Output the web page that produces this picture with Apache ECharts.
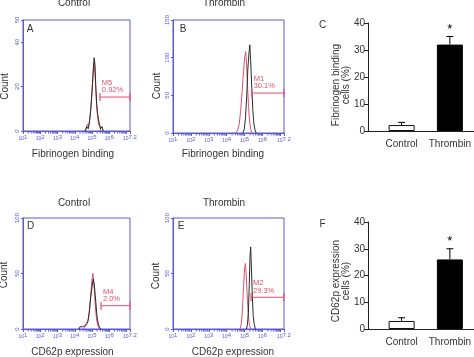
<!DOCTYPE html>
<html><head><meta charset="utf-8">
<script src="https://cdn.jsdelivr.net/npm/echarts@6/dist/echarts.min.js"></script>
<style>html,body{margin:0;padding:0;background:#fff}#c{width:474px;height:357px}</style>
</head><body><div id="c"></div>
<script>
// ---------- Histogram data (x = log10 fluorescence, y = count) ----------
const aRedX = [4.55,4.65,4.72,4.8,4.88,4.95,5.02,5.08,5.13,5.18,5.22,5.28,5.33,5.38,5.45,5.5];
const aRedY = [0,1,3,2,6,12,20,28,31,25,18,10,6,3,2,0];
const aBlkX = [4.6,4.7,4.78,4.85,4.93,5.0,5.06,5.12,5.17,5.22,5.27,5.32,5.38,5.43,5.5,5.58,5.65];
const aBlkY = [0,2,1,4,10,18,26,33,30,20,12,8,5,3,1,2,0];

const bRedX = [4.5,4.6,4.7,4.78,4.86,4.94,5.0,5.06,5.1,5.16,5.22,5.28,5.34,5.4];
const bRedY = [0,3,12,30,55,82,100,108,95,65,35,15,5,0];
const bBlkX = [4.9,4.98,5.05,5.12,5.18,5.24,5.29,5.34,5.4,5.46,5.52,5.58,5.65];
const bBlkY = [0,5,20,50,85,105,117,95,60,30,12,4,0];

const dRedX = [4.5,4.6,4.7,4.78,4.86,4.93,5.0,5.05,5.1,5.16,5.22,5.28,5.34,5.4,5.46];
const dRedY = [0,2,4,8,18,32,45,50,42,28,15,7,3,1,0];
const dBlkX = [4.25,4.3,4.38,4.45,4.52,4.6,4.68,4.76,4.84,4.92,5.0,5.07,5.13,5.19,5.25,5.3,5.36,5.42,5.5];
const dBlkY = [0,2,1,2,1,3,5,7,15,28,38,45,40,30,18,10,5,2,0];

const eRedX = [4.75,4.82,4.88,4.94,5.0,5.05,5.1,5.16,5.22,5.28,5.34];
const eRedY = [0,5,18,38,55,59,45,25,10,3,0];
const eBlkX = [5.1,5.16,5.21,5.26,5.3,5.34,5.38,5.43,5.48,5.54,5.6];
const eBlkY = [0,4,15,40,65,74,55,30,12,4,0];

// ---------- Gate markers ----------
const markerNames = ['M5','M1','M4','M2'];
const markerPct   = ['0.92%','30.1%','2.0%','29.3%'];
const markerStart = [5.46, 5.4, 5.52, 5.36];
const markerEnd   = [7.2, 7.2, 7.2, 7.2];
const markerLevel = [15.3, 53, 21, 28.6];

// ---------- Histogram axes ----------
const histYMax = [50, 150, 100, 100];
const histYInterval = [20, 50, 50, 50];
const histXMin = 1, histXMax = 7.2;

// ---------- Bar chart data ----------
const barCats = ['Control','Thrombin'];
const fibMean = [2.2, 32];
const fibSem  = [1, 3];
const cd62Mean = [3, 26];
const cd62Sem  = [1.2, 4];
const sigMarks = ['', '*'];
const barYTicks = [0,10,20,30,40];

const FONT = 'Liberation Sans';
const AX = '#5a5ad0';
const RED = '#e0526a';
const BLK = '#2b2b2b';
const TXT = '#333';

const histGrids = [
  {left:23, top:20, width:107, height:111},
  {left:173, top:20, width:111, height:113},
  {left:23, top:218, width:107, height:111},
  {left:173, top:218, width:111, height:111}
];
const grids = histGrids.map(g => Object.assign({show:true, borderColor:AX, borderWidth:1, backgroundColor:'transparent'}, g));
grids.push({left:377.5, top:23, width:100, height:108});
grids.push({left:377.5, top:222, width:100, height:107});
grids.push({left:368, top:23, width:110, height:108});
grids.push({left:368, top:222, width:110, height:107});

const xAxes = [], yAxes = [];
for (let i = 0; i < 4; i++) {
  xAxes.push({
    gridIndex:i, type:'value', min:histXMin, max:histXMax, interval:1,
    axisLine:{show:true, lineStyle:{color:AX, width:1}},
    axisTick:{show:true, length:3, lineStyle:{color:AX}},
    splitLine:{show:false},
    axisLabel:{
      margin:3, color:AX, fontFamily:FONT,
      formatter: v => (v === 7 ? '' : '{b|10}{s|' + v + '}'),
      rich:{ b:{fontSize:5, color:AX, fontFamily:FONT}, s:{fontSize:6, color:AX, fontFamily:FONT, padding:[0,0,3,0]} }
    }
  });
  yAxes.push({
    gridIndex:i, type:'value', min:0, max:histYMax[i], interval:histYInterval[i],
    axisLine:{show:true, lineStyle:{color:AX, width:1}},
    axisTick:{show:true, length:2, lineStyle:{color:AX}},
    splitLine:{show:false},
    axisLabel:{rotate:90, fontSize:6, margin:3, color:AX, fontFamily:FONT, showMaxLabel:true}
  });
}
// bar grids
for (let j = 0; j < 2; j++) {
  xAxes.push({
    gridIndex:4+j, type:'category', data:barCats,
    axisLine:{show:false}, axisTick:{show:false},
    axisLabel:{interval:0, hideOverlap:false, fontSize:10, color:TXT, fontFamily:FONT, margin:8}
  });
  yAxes.push({
    gridIndex:4+j, type:'value', min:barYTicks[0], max:barYTicks[barYTicks.length-1], interval:10, offset:9.5,
    axisLine:{show:true, lineStyle:{color:'#222', width:1}},
    axisTick:{show:true, length:4, lineStyle:{color:'#222'}},
    splitLine:{show:false},
    axisLabel:{fontSize:10, color:TXT, fontFamily:FONT, margin:3}
  });
}
// baseline grids (x axis line only)
for (let j = 0; j < 2; j++) {
  xAxes.push({
    gridIndex:6+j, type:'value', min:0, max:1,
    axisLine:{show:true, lineStyle:{color:'#222', width:1}},
    axisTick:{show:false}, axisLabel:{show:false}, splitLine:{show:false}
  });
  yAxes.push({gridIndex:6+j, type:'value', show:false, min:0, max:1});
}

const zip = (xs, ys) => xs.map((x, i) => [x, ys[i]]);
const curves = [
  [aRedX, aRedY, aBlkX, aBlkY],
  [bRedX, bRedY, bBlkX, bBlkY],
  [dRedX, dRedY, dBlkX, dBlkY],
  [eRedX, eRedY, eBlkX, eBlkY]
];

// minor log ticks (axis decoration)
const minorTicks = [];
for (let d = 1; d < 8; d++) for (let k = 2; k < 10; k++) {
  const v = d + Math.log10(k);
  if (v < histXMax) minorTicks.push([v, 0]);
}

const series = [];
for (let i = 0; i < 4; i++) {
  const c = curves[i];
  series.push({type:'line', xAxisIndex:i, yAxisIndex:i, data:zip(c[0], c[1]), showSymbol:false, symbol:'none',
    lineStyle:{color:RED, width:1}, itemStyle:{color:RED}, silent:true, animation:false});
  series.push({type:'line', xAxisIndex:i, yAxisIndex:i, data:zip(c[2], c[3]), showSymbol:false, symbol:'none',
    lineStyle:{color:BLK, width:1}, itemStyle:{color:BLK}, silent:true, animation:false});
  series.push({type:'line', xAxisIndex:i, yAxisIndex:i,
    data:[
      {value:[markerStart[i], markerLevel[i]],
       label:{show:true, position:[2.5,-14], formatter: markerNames[i] + '\n' + markerPct[i],
              color:RED, fontSize:7.5, lineHeight:7.5, fontFamily:FONT, align:'left'}},
      {value:[markerEnd[i], markerLevel[i]]}
    ],
    symbol:'rect', symbolSize:[1.2, 8], showSymbol:true,
    lineStyle:{color:RED, width:1}, itemStyle:{color:RED}, silent:true, animation:false});
  series.push({type:'custom', xAxisIndex:i, yAxisIndex:i, data:minorTicks, clip:false, silent:true, animation:false,
    renderItem:(params, api) => {
      const p = api.coord([api.value(0), api.value(1)]);
      return {type:'line', shape:{x1:p[0], y1:p[1], x2:p[0], y2:p[1]+2.5}, style:{stroke:AX, lineWidth:1}};
    }});
}

const barSets = [[fibMean, fibSem], [cd62Mean, cd62Sem]];
for (let j = 0; j < 2; j++) {
  const [m, s] = barSets[j];
  series.push({type:'bar', xAxisIndex:4+j, yAxisIndex:4+j, barWidth:26, silent:true, animation:false,
    data: m.map((v, k) => ({value:v, itemStyle: k === 0
      ? {color:'#fff', borderColor:'#111', borderWidth:1}
      : {color:'#000', borderColor:'#000', borderWidth:1}}))});
  series.push({type:'custom', xAxisIndex:4+j, yAxisIndex:4+j, clip:false, silent:true, animation:false, z:5,
    data: barCats.map((c, k) => [k, m[k], s[k]]),
    renderItem:(params, api) => {
      const x = api.value(0), mv = api.value(1), e = api.value(2);
      const p0 = api.coord([x, mv]), p1 = api.coord([x, mv + e]);
      const children = [
        {type:'line', shape:{x1:p0[0], y1:p0[1], x2:p1[0], y2:p1[1]}, style:{stroke:'#000', lineWidth:1}},
        {type:'line', shape:{x1:p1[0]-3.5, y1:p1[1], x2:p1[0]+3.5, y2:p1[1]}, style:{stroke:'#000', lineWidth:1}}
      ];
      const sg = sigMarks[params.dataIndex];
      if (sg) children.push({type:'text', x:p1[0], y:p1[1]-1,
        style:{text:sg, fill:'#000', fontSize:13, fontFamily:FONT, align:'center', verticalAlign:'bottom'}});
      return {type:'group', children};
    }});
}

const T = (text, x, y, opt) => Object.assign({type:'text', x, y, silent:true,
  style:{text, fill:TXT, fontSize:10, fontFamily:FONT, align:'center', verticalAlign:'middle'}}, opt || {});
const R = Math.PI / 2;
const graphic = [
  T('Control', 74, 3),
  T('Thrombin', 224, 3),
  T('Control', 74, 203),
  T('Thrombin', 224, 203),
  T('Fibrinogen binding', 73, 154),
  T('Fibrinogen binding', 223, 154),
  T('CD62p expression', 72.5, 352),
  T('CD62p expression', 233, 352),
  T('Count', 5, 86.5, {rotation:R}),
  T('Count', 157, 86, {rotation:R}),
  T('Count', 4.5, 275, {rotation:R}),
  T('Count', 156, 276, {rotation:R}),
  T('A', 30, 29), T('B', 183, 29), T('D', 30.5, 226), T('E', 181, 226),
  T('C', 322.5, 25), T('F', 322.5, 224.5),
  {type:'text', x:341, y:85, rotation:R, silent:true,
   style:{text:'Fibrinogen binding\ncells (%)', fill:TXT, fontSize:10, lineHeight:9.5, fontFamily:FONT, align:'center', verticalAlign:'middle'}},
  {type:'text', x:341, y:281, rotation:R, silent:true,
   style:{text:'CD62p expression\ncells (%)', fill:TXT, fontSize:10, lineHeight:9.5, fontFamily:FONT, align:'center', verticalAlign:'middle'}}
];

const chart = echarts.init(document.getElementById('c'), null, {renderer:'canvas'});
chart.setOption({
  animation:false,
  backgroundColor:'#fff',
  textStyle:{fontFamily:FONT},
  grid:grids, xAxis:xAxes, yAxis:yAxes, series, graphic
});
</script></body></html>
